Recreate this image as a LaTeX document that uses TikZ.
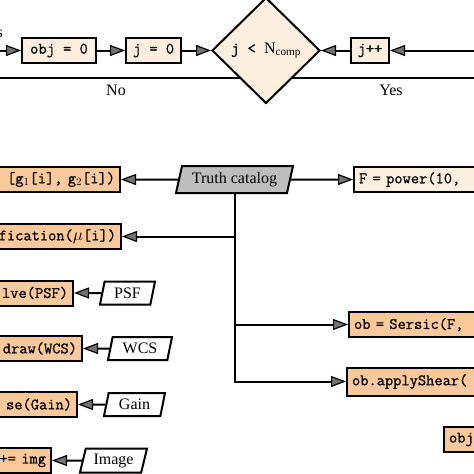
\documentclass[tikz,border=0pt]{standalone}
\usepackage{fontspec}
\setmainfont{Liberation Serif}
\setmonofont{Latin Modern Mono}[RawFeature={embolden=0.7}]
\usetikzlibrary{arrows.meta,shapes.geometric}
\definecolor{beige}{RGB}{253,239,224}
\definecolor{peach}{RGB}{249,200,155}
\definecolor{catgray}{RGB}{190,190,190}
\begin{document}
\begin{tikzpicture}[x=1pt,y=-1pt,
  every node/.style={font=\fontsize{16}{19}\selectfont},
  box/.style={draw=black, line width=2pt, minimum height=25pt, inner xsep=5pt, inner ysep=2pt, font=\fontsize{16}{19}\selectfont\ttfamily},
  lbox/.style={box, fill=beige},
  obox/.style={box, fill=peach},
  para/.style={trapezium, trapezium left angle=70, trapezium right angle=110, draw, line width=2pt, fill=white, minimum height=23pt, inner xsep=2pt, inner ysep=1pt, trapezium stretches body},
  arr/.style={line width=2pt, -{Triangle[length=15pt,width=11pt,fill=black!55,line width=1.2pt]}},
  ln/.style={line width=2pt}]
\useasboundingbox (0,0) rectangle (474,474);
\clip (0,0) rectangle (474,474);
% top row
\coordinate (lL) at (-5,78);
\coordinate (lR) at (480,78);
\draw[ln] (lL) -- (lR);
\node[lbox, minimum width=74pt] (obj0) at (59,50.5) {obj = 0};
\node[lbox, minimum width=55pt] (j0) at (153.5,50.5) {j = 0};
\node[lbox, minimum width=38pt, inner xsep=2pt] (jpp) at (370,50.5) {j++};
\node[diamond, draw, line width=2pt, fill=beige, minimum width=108pt, minimum height=106pt, inner sep=0pt] (cond) at (266,50.5) {\texttt{j < }N\textsubscript{comp}};
\node (no) at (116,90) {No};
\node (yes) at (391,90) {Yes};
\node[anchor=base east, inner sep=0pt] (yestop) at (3,37) {Yes};
\coordinate (inL) at (-5,50.5);
\coordinate (inR) at (480,50.5);
\draw[arr] (inL) -- (obj0);
\draw[arr] (obj0) -- (j0);
\draw[arr] (j0) -- (cond);
\draw[arr] (jpp) -- (cond);
\draw[arr] (inR) -- (jpp);
% middle
\node[para, fill=catgray, minimum width=117pt, minimum height=27pt] (truth) at (234.5,179.5) {Truth catalog};
\node[lbox, anchor=west, text width=160pt, align=left] (F) at (353,179.5) {F = power(10,};
\node[obox, anchor=east, text width=120pt, align=right] (g) at (121,179.5) {[g$_1$[i], g$_2$[i])};
\node[obox, anchor=east, text width=130pt, align=right] (mu) at (122,236.5) {fication($\mu$[i])};
\node[obox, anchor=west, text width=150pt, align=left] (sers) at (348,324.5) {ob = Sersic(F,};
\node[obox, anchor=west, text width=150pt, align=left, minimum height=28pt] (shear) at (346,381.5) {ob.applyShear(};
\node[obox, anchor=west, text width=100pt, align=left] (objsum) at (443,439.5) {obj};
\draw[arr] (truth) -- (g);
\draw[arr] (truth) -- (F);
\draw[arr] (truth.south) |- (mu.east);
\draw[arr] (truth.south) |- (sers.west);
\draw[arr] (truth.south) |- (shear.west);
% lower left
\node[obox, anchor=east, text width=90pt, align=right] (conv) at (74,293) {lve(PSF)};
\node[para, minimum width=55pt] (psf) at (127.5,293) {PSF};
\node[obox, anchor=east, text width=90pt, align=right] (drw) at (83,348.5) {draw(WCS)};
\node[para, minimum width=64pt] (wcs) at (140,348.5) {WCS};
\node[obox, anchor=east, text width=90pt, align=right] (noise) at (78,404.5) {se(Gain)};
\node[para, minimum width=61pt] (gain) at (134.5,404.5) {Gain};
\node[obox, anchor=east, text width=90pt, align=right] (img) at (52,460.5) {+= img};
\node[para, minimum width=67pt, minimum height=24pt] (image) at (113.5,460.5) {Image};
\draw[arr] (psf) -- (conv);
\draw[arr] (wcs) -- (drw);
\draw[arr] (gain) -- (noise);
\draw[arr] (image) -- (img);
\end{tikzpicture}
\end{document}
